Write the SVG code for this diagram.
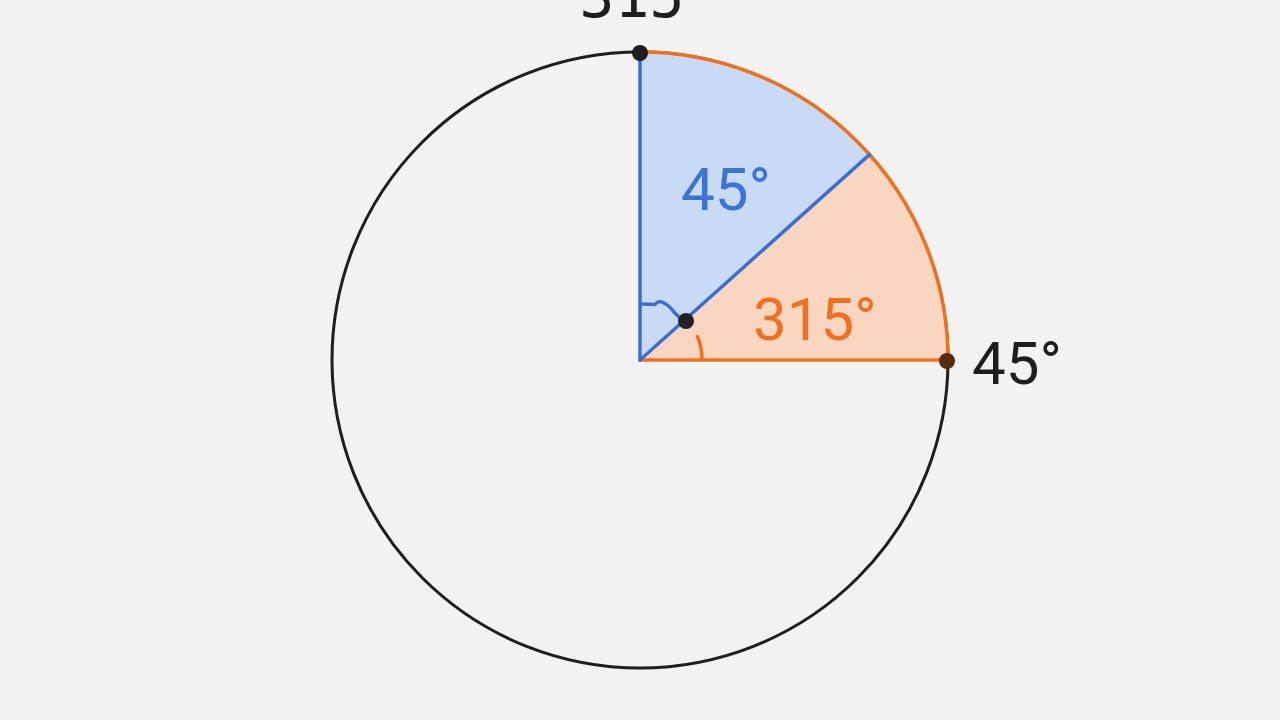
<svg xmlns="http://www.w3.org/2000/svg" width="1280" height="720" viewBox="0 0 1280 720">
<style>
.lbl{font-family:Roboto,"Liberation Sans",sans-serif;font-size:60px}
.blue{stroke:#3b6fcf;stroke-width:3.5;fill:none;stroke-linecap:round}
.orange{stroke:#f07020;stroke-width:3.5;fill:none;stroke-linecap:round}
</style>
<rect width="1280" height="720" fill="#f2f2f2"/>
<g id="circle">
<circle cx="640" cy="360" r="308" fill="none" stroke="#1e1e1e" stroke-width="3"/>
</g>
<g id="sector-blue">
<path d="M640,360 L640,52 A308,308 0 0 1 869.5,154.6 Z" fill="#c9daf4"/>
</g>
<g id="sector-orange">
<path d="M640,360 L869.5,154.6 A308,308 0 0 1 948,360 Z" fill="#f9d6bf"/>
</g>
<g id="connectors">
<path class="orange" d="M640,52 A308,308 0 0 1 948,360"/>
<line class="orange" x1="640" y1="360" x2="948" y2="360"/>
<line class="blue" x1="640" y1="360" x2="640" y2="52"/>
<line class="blue" x1="640" y1="360" x2="869.5" y2="154.6"/>
<path class="blue" stroke-width="2.5" d="M641,304 L655,304.5 C657,301 661,301 664,303 C668,305 671,308 674,312 L682,320"/>
<path class="orange" stroke-width="2.5" d="M697.5,336.5 A62,62 0 0 1 702,359"/>
</g>
<g id="points">
<circle cx="640" cy="53" r="8" fill="#1e1e1e"/>
<circle cx="686" cy="321" r="8" fill="#222222"/>
<circle cx="947" cy="361" r="8" fill="#5a2a0e"/>
</g>
<g id="labels">
<text x="632" y="17" text-anchor="middle" fill="#1e1e1e" style="font-family:'DejaVu Sans Mono',monospace;font-size:58px">315</text>
<text class="lbl" x="681" y="210" fill="#3b74d6">45°</text>
<text class="lbl" x="753" y="340" fill="#f07020">315°</text>
<text class="lbl" x="972" y="384" fill="#1e1e1e">45°</text>
</g>
</svg>
